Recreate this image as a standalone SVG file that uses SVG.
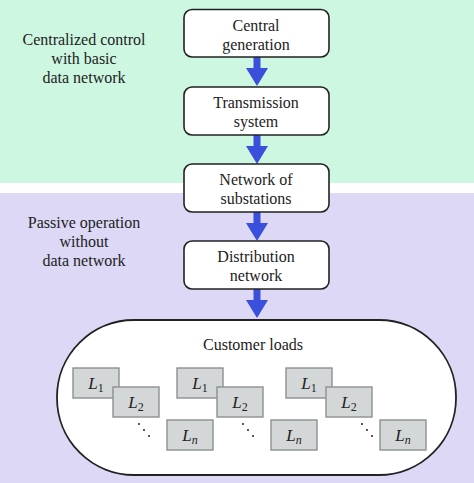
<svg xmlns="http://www.w3.org/2000/svg" width="474" height="483" viewBox="0 0 474 483">
<defs>
<style>
.t{font-family:'Liberation Serif','DejaVu Serif',serif;font-size:16px;fill:#222;text-anchor:middle}
.node rect{fill:#fff;stroke:#222;stroke-width:1.6}
.ld{fill:#d4d7d7;stroke:#8c9191;stroke-width:1.4}
.lt{font-family:'Liberation Serif','DejaVu Serif',serif;font-size:17px;font-style:italic;fill:#222;text-anchor:middle}
.sub{font-size:12px;font-style:normal}
.subi{font-size:12px;font-style:italic}
.arr{fill:#3a4fdc}
.dot{fill:#222}
</style>
</defs>
<rect x="0" y="0" width="474" height="183" fill="#cef7e1"/>
<rect x="0" y="193" width="474" height="290" fill="#dcd8f6"/>
<text class="t" x="84" y="45" font-family="Liberation Serif">Centralized control</text>
<text class="t" x="84" y="64">with basic</text>
<text class="t" x="84" y="83">data network</text>
<text class="t" x="84" y="228">Passive operation</text>
<text class="t" x="84" y="247">without</text>
<text class="t" x="84" y="266">data network</text>
<g id="connectors">
<path class="arr" d="M253.5 57H260.5V68H268L257 86L246 68H253.5Z"/>
<path class="arr" d="M253.5 135H260.5V146H268L257 164L246 146H253.5Z"/>
<path class="arr" d="M253.5 212H260.5V223H268L257 241L246 223H253.5Z"/>
<path class="arr" d="M253.5 289H260.5V300H268L257 318L246 300H253.5Z"/>
</g>
<g id="n1" class="node"><rect x="184" y="9.5" width="145" height="47.5" rx="8"/><text class="t" x="256" y="31">Central</text><text class="t" x="256" y="50">generation</text></g>
<g id="n2" class="node"><rect x="184" y="87" width="145" height="48" rx="8"/><text class="t" x="256" y="108">Transmission</text><text class="t" x="256" y="127">system</text></g>
<g id="n3" class="node"><rect x="184" y="164" width="145" height="48" rx="8"/><text class="t" x="256" y="185">Network of</text><text class="t" x="256" y="204">substations</text></g>
<g id="n4" class="node"><rect x="184" y="241" width="145" height="48" rx="8"/><text class="t" x="256" y="262">Distribution</text><text class="t" x="256" y="281">network</text></g>
<g id="customer" class="node">
<rect x="57" y="320" width="399" height="155" rx="77" ry="77" style="stroke-width:1.8"/>
<text class="t" x="253" y="350">Customer loads</text>
</g>
<g id="loads1">
<rect class="ld" x="73" y="368" width="46" height="30"/>
<text class="lt" x="96" y="389">L<tspan class="sub" dy="3">1</tspan></text>
<rect class="ld" x="113" y="387" width="46" height="30"/>
<text class="lt" x="136" y="408">L<tspan class="sub" dy="3">2</tspan></text>
<rect class="ld" x="167" y="420" width="46" height="30"/>
<text class="lt" x="190" y="441">L<tspan class="subi" dy="3">n</tspan></text>
<circle class="dot" cx="139" cy="424" r="1"/><circle class="dot" cx="144" cy="430" r="1"/><circle class="dot" cx="149" cy="436" r="1"/>
</g>
<g id="loads2">
<rect class="ld" x="177" y="368" width="46" height="30"/>
<text class="lt" x="200" y="389">L<tspan class="sub" dy="3">1</tspan></text>
<rect class="ld" x="217" y="387" width="46" height="30"/>
<text class="lt" x="240" y="408">L<tspan class="sub" dy="3">2</tspan></text>
<rect class="ld" x="271" y="420" width="46" height="30"/>
<text class="lt" x="294" y="441">L<tspan class="subi" dy="3">n</tspan></text>
<circle class="dot" cx="243" cy="424" r="1"/><circle class="dot" cx="248" cy="430" r="1"/><circle class="dot" cx="253" cy="436" r="1"/>
</g>
<g id="loads3">
<rect class="ld" x="286" y="368" width="46" height="30"/>
<text class="lt" x="309" y="389">L<tspan class="sub" dy="3">1</tspan></text>
<rect class="ld" x="326" y="387" width="46" height="30"/>
<text class="lt" x="349" y="408">L<tspan class="sub" dy="3">2</tspan></text>
<rect class="ld" x="380" y="420" width="46" height="30"/>
<text class="lt" x="403" y="441">L<tspan class="subi" dy="3">n</tspan></text>
<circle class="dot" cx="362" cy="424" r="1"/><circle class="dot" cx="367" cy="430" r="1"/><circle class="dot" cx="372" cy="436" r="1"/>
</g>
</svg>
